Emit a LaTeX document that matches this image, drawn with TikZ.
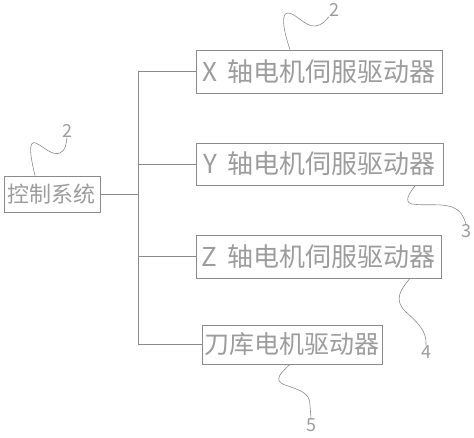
\documentclass[tikz,border=0pt]{standalone}
\usepackage{fontspec}
\usepackage{xcolor}
\usepackage{tikz}
\newfontfamily\cjk{Noto Sans CJK SC}
\definecolor{lineGrey}{HTML}{8A8A8A}
\definecolor{textGrey}{HTML}{9C9C9C}
\usetikzlibrary{positioning}

\begin{document}
\begin{tikzpicture}[
  x=1pt, y=-1pt,
  unit/.style={draw=lineGrey, line width=0.8pt, inner sep=0pt, text=textGrey, font=\cjk\fontsize{26}{26}\selectfont},
  wire/.style={lineGrey, line width=0.8pt},
  leader/.style={lineGrey, line width=0.6pt},
  tag/.style={text=textGrey, inner sep=0pt, font=\cjk\fontsize{18}{18}\selectfont}
]
\useasboundingbox (0,0) rectangle (474,437);

% Control unit and the four drivers
\node[unit, minimum width=96pt, minimum height=36pt, font=\cjk\fontsize{22}{22}\selectfont] (ctrl) at (52,194) {控制系统};
\node[unit, minimum width=246pt, minimum height=43pt] (xdrv) at (319,71.5) {X\hspace{11pt}轴电机伺服驱动器};
\node[unit, minimum width=247pt, minimum height=42pt] (ydrv) at (319.5,164) {Y\hspace{11pt}轴电机伺服驱动器};
\node[unit, minimum width=245pt, minimum height=43pt] (zdrv) at (318.5,256.5) {Z\hspace{11pt}轴电机伺服驱动器};
\node[unit, minimum width=180pt, minimum height=39pt, font=\cjk\fontsize{25}{25}\selectfont] (tool) at (292,344.5) {刀库电机驱动器};

% Bus from control unit to drivers
\coordinate (bus) at (138,0);
\draw[wire] (ctrl.east) -- (ctrl.east -| bus);
\draw[wire] (xdrv.west -| bus) -- (tool.west -| bus);
\draw[wire] (xdrv.west -| bus) -- (xdrv.west);
\draw[wire] (ydrv.west -| bus) -- (ydrv.west);
\draw[wire] (zdrv.west -| bus) -- (zdrv.west);
\draw[wire] (tool.west -| bus) -- (tool.west);

% Reference numerals
\node[tag] (tagctrl) at (67,131) {2};
\node[tag] (tagx) at (334,10) {2};
\node[tag] (tagy) at (466,231) {3};
\node[tag] (tagz) at (426,352) {4};
\node[tag] (tagtool) at (311,425) {5};

% Leader lines
\draw[leader] ([xshift=-17pt]ctrl.north) .. controls (30,155) and (28,140) .. (36,143)
  .. controls (44,147) and (52,156) .. (60,153) .. controls (66,150) and (66,144) .. (tagctrl.south);
\draw[leader] ([xshift=-29pt]xdrv.north) .. controls (285,35) and (280,15) .. (287,13)
  .. controls (295,12) and (305,27) .. (315,26) .. controls (323,25) and (326,20) .. (tagx.south west);
\draw[leader] ([xshift=96pt]ydrv.south) .. controls (410,192) and (403,202) .. (412,204)
  .. controls (425,206) and (440,203) .. (452,207) .. controls (462,211) and (464,218) .. (tagy.north);
\draw[leader] ([xshift=91.5pt]zdrv.south) .. controls (400,290) and (394,300) .. (405,311)
  .. controls (418,323) and (427,331) .. (tagz.north);
\draw[leader] ([xshift=-2pt]tool.south) .. controls (282,372) and (272,380) .. (285,385)
  .. controls (300,390) and (310,393) .. (310,405) -- (tagtool.north);

\end{tikzpicture}
\end{document}
